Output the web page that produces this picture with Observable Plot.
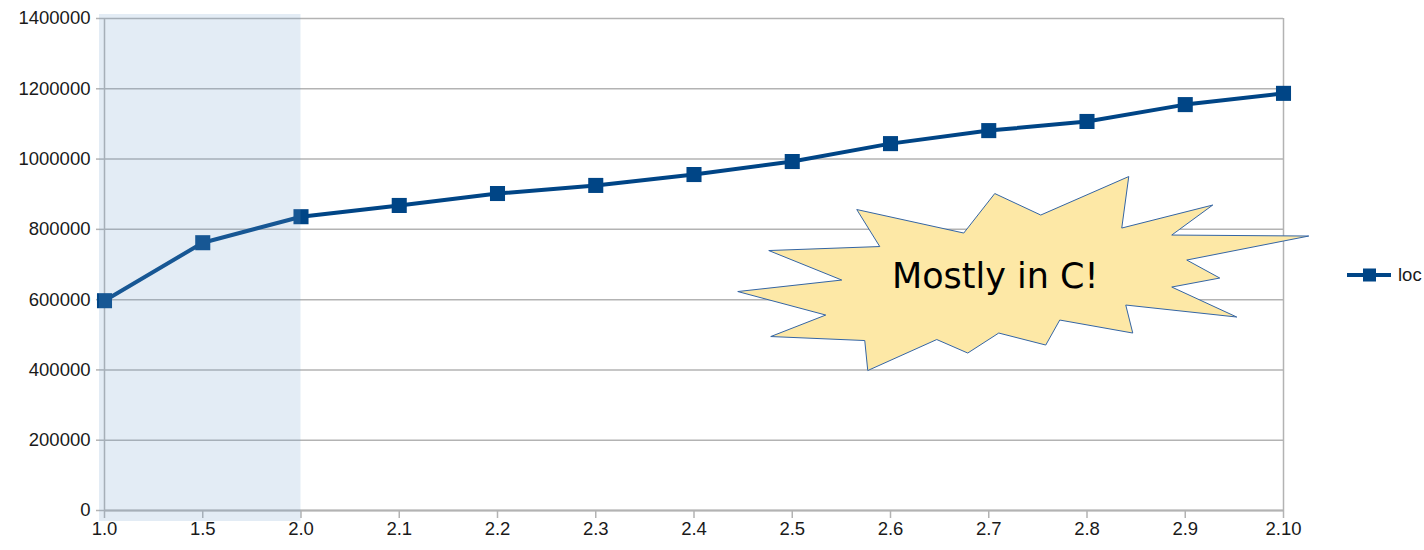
<!DOCTYPE html>
<html>
<head>
<meta charset="utf-8">
<script src="https://cdn.jsdelivr.net/npm/d3@7"></script>
<script src="https://cdn.jsdelivr.net/npm/@observablehq/plot@0.6"></script>
<style>
  html, body { margin: 0; padding: 0; background: #fff; }
  #wrap { position: relative; width: 1424px; height: 550px; }
  #legend { position: absolute; left: 1346px; top: 262px; display: flex; align-items: center;
            font-family: "Liberation Sans", Arial, sans-serif; font-size: 18.5px; color: #1a1a1a; }
  #legend svg { margin-right: 6px; }
</style>
</head>
<body>
<div id="wrap"><div id="legend"></div></div>
<script>
// ---- data ----
const versions = ["1.0", "1.5", "2.0", "2.1", "2.2", "2.3", "2.4", "2.5", "2.6", "2.7", "2.8", "2.9", "2.10"];
const loc = [597000, 762000, 836000, 868000, 902000, 925000, 956000, 993000, 1044000, 1081000, 1107000, 1155000, 1187000];
const yTicks = [0, 200000, 400000, 600000, 800000, 1000000, 1200000, 1400000];
const shadedFrom = "1.0";
const shadedTo = "2.0";
const seriesName = "loc";
const calloutText = "Mostly in C!";
const calloutAt = { version: "2.7", value: 670000 };

const rows = versions.map((v, i) => ({ version: v, loc: loc[i] }));

// starburst callout outline (pixel offsets around its centre)
const BURST = [[-132,-65.5],[-25,-42],[6,-81.5],[52,-60],[140,-98.5],[133,-47],[224,-70],[183,-40],
  [320,-39],[198,-15],[231,3],[183,12],[248,42],[137,30],[144,58],[71,45],[57,70],[10,58],[-21,78],
  [-52,64.5],[-121,95.5],[-124,65.5],[-218,61.5],[-163,40],[-251,16.5],[-147,5],[-220,-24.5],[-109,-28.5]];
const burstSymbol = {
  draw(ctx) {
    BURST.forEach(([x, y], i) => i ? ctx.lineTo(x, y) : ctx.moveTo(x, y));
    ctx.closePath();
  }
};

const BLUE = "#004586";
const GRID = "#b3b3b3";

const chart = Plot.plot({
  width: 1424,
  height: 550,
  marginLeft: 104,
  marginRight: 141,
  marginTop: 18,
  marginBottom: 40,
  style: { fontFamily: "'Liberation Sans', Arial, sans-serif", fontSize: "18.5px", color: "#1a1a1a", background: "#fff" },
  x: { type: "point", domain: versions, padding: 0, round: false, label: null },
  y: { domain: [0, 1400000], label: null },
  marks: [
    Plot.gridY(yTicks, { stroke: GRID, strokeOpacity: 1, strokeWidth: 1.5 }),
    Plot.ruleX([versions[0], versions[versions.length - 1]], { stroke: GRID, strokeWidth: 1.5 }),
    Plot.ruleY([0], { stroke: GRID, strokeWidth: 2 }),
    Plot.axisY({ ticks: yTicks, tickFormat: d => String(d), tickSize: 8, tickPadding: 6, stroke: GRID, strokeWidth: 1.5 }),
    Plot.axisX({ tickSize: 8, tickPadding: 3, stroke: GRID, strokeWidth: 1.5 }),
    Plot.line(rows, { x: "version", y: "loc", stroke: BLUE, strokeWidth: 4 }),
    Plot.dot(rows, { x: "version", y: "loc", symbol: "square", r: 8.5, fill: BLUE, stroke: "none" }),
    Plot.rect([{ from: shadedFrom, to: shadedTo }], {
      x1: "from", x2: "to", y1: () => yTicks[0], y2: () => yTicks[yTicks.length - 1],
      fill: "#729fcf", fillOpacity: 0.2, insetLeft: -5, insetTop: -4, insetBottom: -11
    }),
    Plot.dot([calloutAt], { x: "version", y: "value", symbol: burstSymbol, r: 10, fill: "#fde8a6", stroke: "#3465a4", strokeWidth: 1 }),
    Plot.text([calloutAt], { x: "version", y: "value", text: () => calloutText, dx: 6.5, dy: 2,
      fontFamily: "'DejaVu Sans', sans-serif", fontSize: 35, fill: "#000" })
  ]
});
document.getElementById("wrap").prepend(chart);

// legend
const lg = d3.select("#legend");
const sw = lg.append("svg").attr("width", 46).attr("height", 26);
sw.append("line").attr("x1", 1).attr("x2", 45).attr("y1", 13).attr("y2", 13).attr("stroke", BLUE).attr("stroke-width", 4);
sw.append("rect").attr("x", 17).attr("y", 6.5).attr("width", 13).attr("height", 13).attr("fill", BLUE);
lg.append("span").text(seriesName);
</script>
</body>
</html>
